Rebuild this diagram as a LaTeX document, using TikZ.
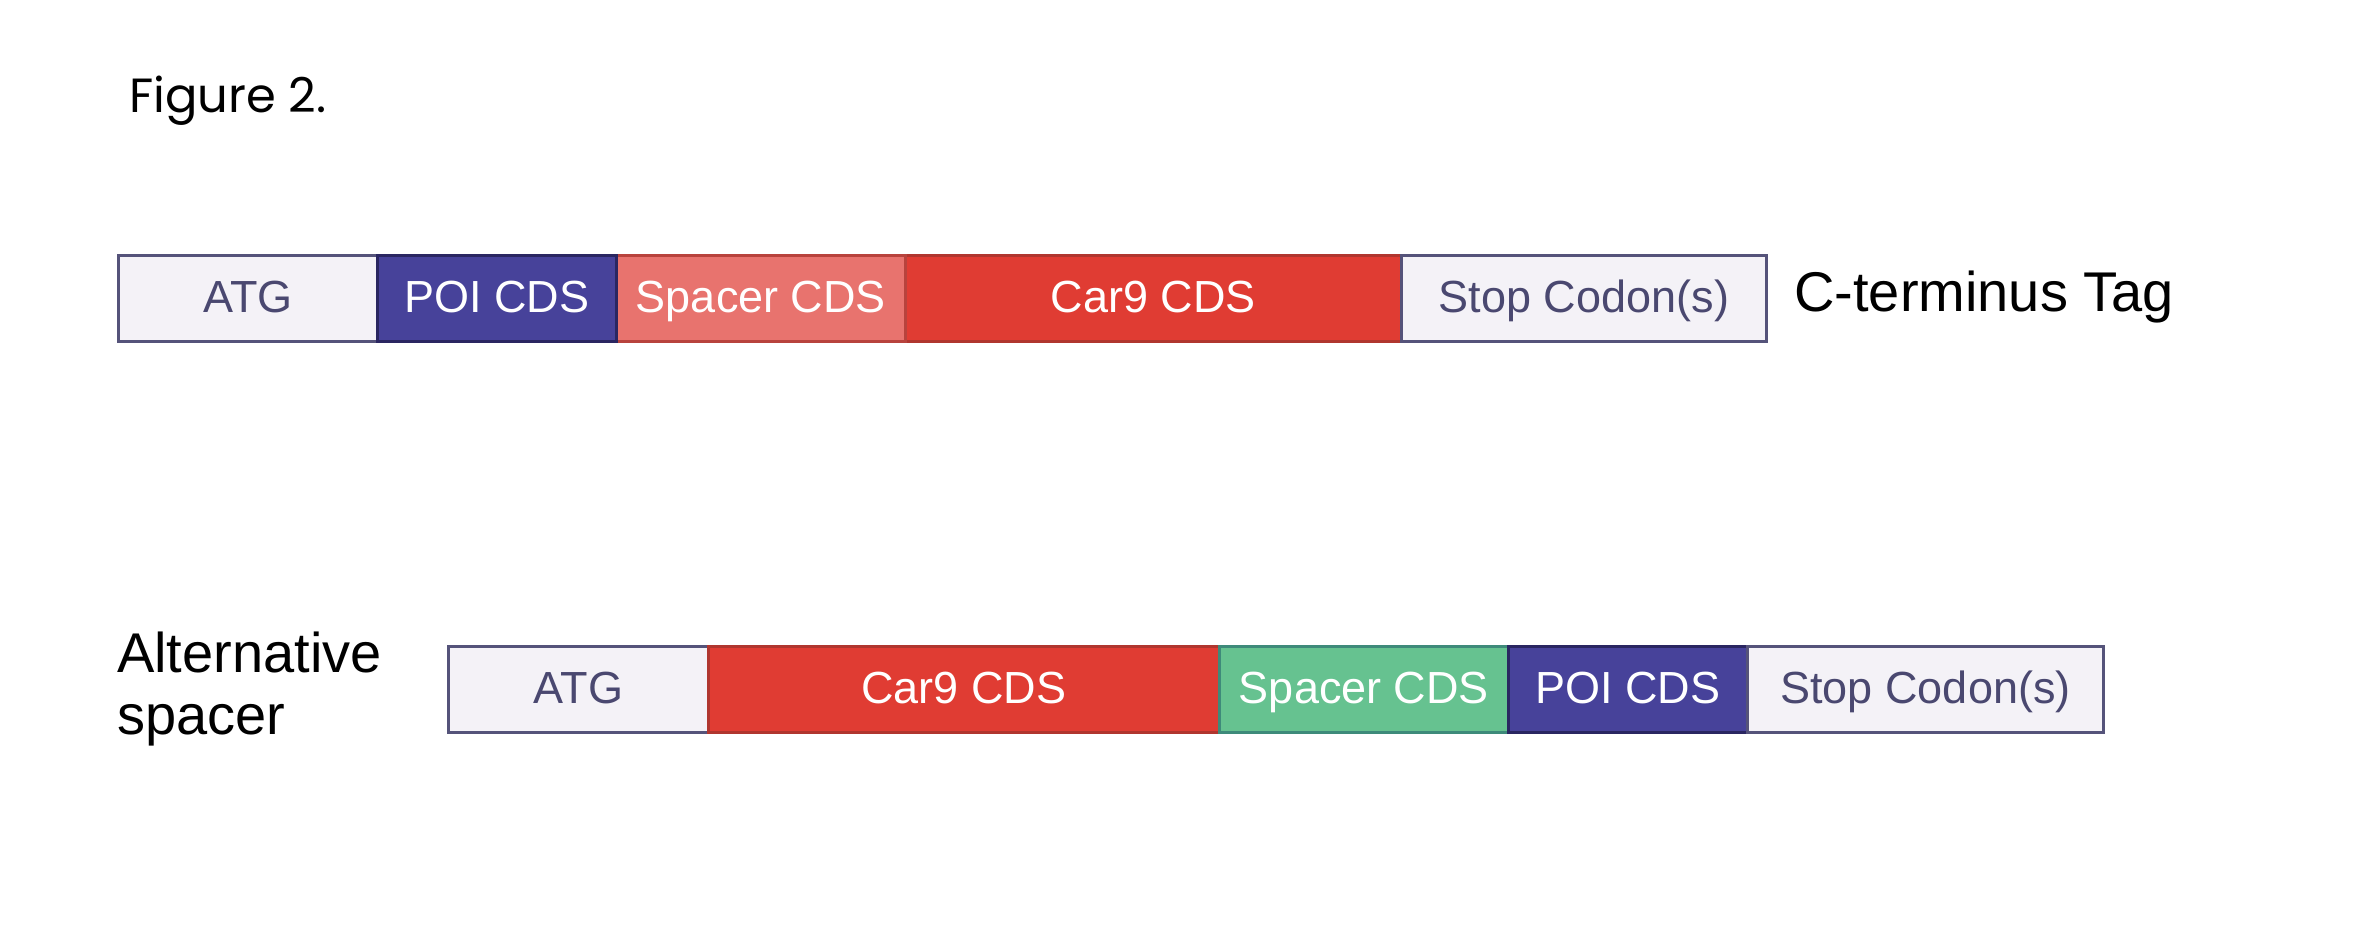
\documentclass[tikz,border=0pt]{standalone}
\usepackage{fontspec}
\setmainfont{Liberation Sans}
\newfontfamily\popfont{Poppins}
\definecolor{lightfill}{HTML}{F4F2F7}
\definecolor{lightdraw}{HTML}{55537A}
\definecolor{lighttext}{HTML}{4A4870}
\definecolor{poifill}{HTML}{47429A}
\definecolor{poidraw}{HTML}{2A2661}
\definecolor{spfill}{HTML}{E8736E}
\definecolor{spdraw}{HTML}{B8433D}
\definecolor{carfill}{HTML}{E03C33}
\definecolor{cardraw}{HTML}{B0362F}
\definecolor{grfill}{HTML}{66C290}
\definecolor{grdraw}{HTML}{3E8A7A}
\tikzset{
  seg/.style={rectangle, inner sep=0pt, line width=3pt, anchor=north west,
    minimum height=86pt, text height=32pt, text depth=5pt,
    font=\fontsize{45}{54}\selectfont},
  lightseg/.style={seg, fill=lightfill, draw=lightdraw, text=lighttext},
  poiseg/.style={seg, fill=poifill, draw=poidraw, text=white},
  spseg/.style={seg, fill=spfill, draw=spdraw, text=white},
  carseg/.style={seg, fill=carfill, draw=cardraw, text=white},
  grseg/.style={seg, fill=grfill, draw=grdraw, text=white},
  lbl/.style={inner sep=0pt, text=black, font=\fontsize{56}{62}\selectfont}
}
\begin{document}
\begin{tikzpicture}[x=1pt, y=-1pt]
\useasboundingbox (0,0) rectangle (2358,938);
\node[anchor=west, inner sep=0pt, font=\popfont\fontsize{48}{56}\selectfont] (fig) at (129,101) {Figure 2.};
% top row
\node[lightseg, minimum width=259pt] (a1) at (117,254) {ATG};
\node[carseg, minimum width=496pt] (c1) at (904,254) {Car9 CDS};
\node[spseg, minimum width=289pt] (s1) at (615,254) {Spacer CDS};
\node[poiseg, minimum width=239pt] (p1) at (376,254) {POI CDS};
\node[lightseg, minimum width=365pt] (t1) at (1400,254) {Stop Codon(s)};
\node[lbl, anchor=west] (lab1) at (1794,297) {C-terminus Tag};
% bottom row
\node[lightseg, minimum width=260pt] (a2) at (447,645) {ATG};
\node[carseg, minimum width=511pt] (c2) at (707,645) {Car9 CDS};
\node[grseg, minimum width=289pt] (s2) at (1218,645) {Spacer CDS};
\node[poiseg, minimum width=239pt] (p2) at (1507,645) {POI CDS};
\node[lightseg, minimum width=356pt] (t2) at (1746,645) {Stop Codon(s)};
\node[lbl, anchor=west, align=left] (lab2) at (117,689) {Alternative\\spacer};
\end{tikzpicture}
\end{document}
